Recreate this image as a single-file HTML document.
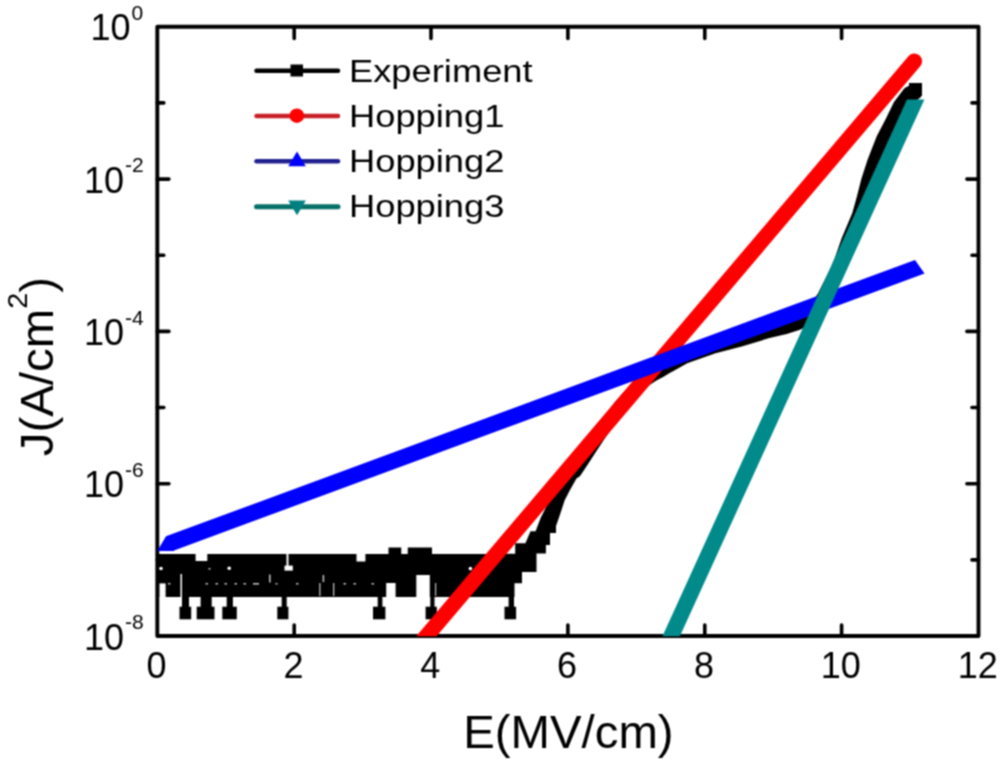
<!DOCTYPE html>
<html><head><meta charset="utf-8"><title>J-E plot</title>
<style>html,body{margin:0;padding:0;background:#fff;}svg{display:block;}</style>
</head><body>
<svg width="1000" height="764" viewBox="0 0 1000 764"><defs><filter id="soft" x="0" y="0" width="1" height="1" color-interpolation-filters="sRGB"><feConvolveMatrix order="3" kernelMatrix="1 2 1 2 4 2 1 2 1" divisor="16" edgeMode="duplicate"/></filter></defs><g filter="url(#soft)"><rect width="1000" height="764" fill="#fff"/><clipPath id="cp"><rect x="157.3" y="20" width="830" height="616.3"/></clipPath>
<rect x="157.3" y="26.8" width="821.2" height="609.2" fill="none" stroke="#000" stroke-width="3.9" stroke-linejoin="round"/>
<path fill="none" stroke="#000" stroke-width="3.6" stroke-linecap="round" d="M294.2,636.0v-11M294.2,26.8v11.6M431.0,636.0v-11M431.0,26.8v11.6M567.9,636.0v-11M567.9,26.8v11.6M704.8,636.0v-11M704.8,26.8v11.6M841.6,636.0v-11M841.6,26.8v11.6M157.3,559.9h6.5M978.5,559.9h-6.5M157.3,483.7h11.6M978.5,483.7h-11.6M157.3,407.5h6.5M978.5,407.5h-6.5M157.3,331.4h11.6M978.5,331.4h-11.6M157.3,255.2h6.5M978.5,255.2h-6.5M157.3,179.1h11.6M978.5,179.1h-11.6M157.3,102.9h6.5M978.5,102.9h-6.5"/>
<g><rect x="158.5" y="554" width="356" height="43" fill="#000"/><rect x="388.5" y="547.5" width="13" height="7" fill="#000"/><rect x="407.5" y="547.5" width="24.5" height="7" fill="#000"/><rect x="179.5" y="606.7" width="11.7" height="12.6" fill="#000"/><rect x="182" y="596" width="7.0" height="12" fill="#000"/><rect x="196.7" y="606.7" width="17.8" height="12.6" fill="#000"/><rect x="200.6" y="596" width="11.1" height="12" fill="#000"/><rect x="222.3" y="606.7" width="14.5" height="12.6" fill="#000"/><rect x="226.7" y="596" width="6.2" height="12" fill="#000"/><rect x="277.3" y="606.7" width="11.1" height="12.6" fill="#000"/><rect x="281.7" y="596" width="5.0" height="12" fill="#000"/><rect x="373" y="606.7" width="12.4" height="12.6" fill="#000"/><rect x="377.7" y="596" width="4.7" height="12" fill="#000"/><rect x="425.6" y="606.7" width="11.2" height="12.6" fill="#000"/><rect x="430.3" y="596" width="4.2" height="12" fill="#000"/><rect x="504.5" y="606.7" width="11.6" height="12.6" fill="#000"/><rect x="508.6" y="596" width="5.4" height="12" fill="#000"/><polygon fill="#000" points="513.5,597 513.5,583.2 522,583.2 522,572 536.5,572 536.5,553.4 545.9,553.4 545.9,544.9 550,544.9 550,533 556,533 556,526 559.5,516 564.6,500.6 569.7,490.4 576.5,478.5 581.6,470 568,462 545.9,507.4 540.7,517.7 535.6,531.3 530.5,531.3 525.4,543.2 515.2,543.2 515.2,553.7 505,553.7 505,597"/><rect x="195.6" y="553" width="11.7" height="8" fill="#fff"/><rect x="356.5" y="553" width="8.9" height="8.5" fill="#fff"/><rect x="286.5" y="553" width="2" height="13" fill="#fff"/><rect x="284.5" y="565.6" width="8.3" height="5" fill="#fff"/><rect x="159.5" y="583.4" width="6.1" height="14" fill="#fff"/><rect x="180.5" y="574" width="1.5" height="23" fill="#fff"/><rect x="386.2" y="583" width="9.4" height="14" fill="#fff"/><rect x="416.3" y="575" width="13.5" height="22" fill="#fff"/><rect x="401.5" y="547" width="6" height="7" fill="#fff"/><rect x="168" y="583" width="2.5" height="1.5" fill="#bbb"/><rect x="205.5" y="583" width="2.5" height="1.5" fill="#bbb"/><rect x="215.5" y="583" width="2.5" height="1.5" fill="#bbb"/><rect x="224.5" y="583" width="2.5" height="1.5" fill="#bbb"/><rect x="234.5" y="583" width="2.5" height="1.5" fill="#bbb"/><rect x="243.5" y="583" width="2.5" height="1.5" fill="#bbb"/><rect x="253" y="583" width="6" height="1.6" fill="#bbb"/><rect x="269" y="574.5" width="1.6" height="8" fill="#bbb"/><rect x="275.5" y="583" width="2" height="1.5" fill="#bbb"/><rect x="296" y="583" width="2.5" height="1.5" fill="#bbb"/><rect x="319.2" y="583" width="1.3" height="13" fill="#bbb"/><rect x="322.6" y="575" width="1.6" height="7" fill="#bbb"/><rect x="333" y="583" width="1.3" height="13" fill="#bbb"/><rect x="343.5" y="583" width="2.5" height="1.5" fill="#bbb"/><rect x="353.5" y="583" width="2.5" height="1.5" fill="#bbb"/><rect x="371.5" y="583" width="2.5" height="1.5" fill="#bbb"/><rect x="435" y="583" width="1.2" height="13" fill="#bbb"/><rect x="208.5" y="568" width="2" height="1.6" fill="#bbb"/><circle cx="161" cy="568.5" r="1.8" fill="#fff"/><circle cx="229.2" cy="568.3" r="1.8" fill="#fff"/><circle cx="470.4" cy="568.6" r="1.8" fill="#fff"/></g>
<polyline fill="none" stroke="#000" stroke-width="13" stroke-linejoin="round" stroke-linecap="round" points="575,472 583,460 592,446 600,434 610,420 620,406 628,397 635,390 640.5,384.5 646,379.5 652,375.5 659,371.8 668,366.5 685,357 712,347.5 739,340.4 766,332.3 784,328 798,323.5 806,319.5 812,314 818,305 824,296 830,284 836,272 841,260 848,240 858.5,215 862.7,200 867.5,181 874,161 882.6,139 890.2,124.5 899.2,106 909,93 915,90"/>
<rect x="909" y="83" width="13" height="13" fill="#000"/>
<polygon fill="#000" points="893,112 903,96 909,88 921,90 921,97 912,104 905,112"/>
<line clip-path="url(#cp)" x1="423.2" y1="640" x2="914.3" y2="61.2" stroke="#ff0000" stroke-width="15.5" stroke-linecap="round"/>
<polygon clip-path="url(#cp)" fill="#0000ff" points="157.3,551.0 166.0,536.3 915.0,260.0 924.5,273.6 174.0,550.4 174.0,551.0"/>
<polygon clip-path="url(#cp)" fill="#008a8a" points="907.0,99.5 924.4,99.5 679.3,637.5 661.9,637.5"/>
<g font-family="'Liberation Sans', sans-serif" font-size="36" fill="#000"><text x="156.5" y="677.5" text-anchor="middle">0</text><text x="293.4" y="677.5" text-anchor="middle">2</text><text x="430.2" y="677.5" text-anchor="middle">4</text><text x="567.1" y="677.5" text-anchor="middle">6</text><text x="704.0" y="677.5" text-anchor="middle">8</text><text x="840.8" y="677.5" text-anchor="middle">10</text><text x="977.7" y="677.5" text-anchor="middle">12</text></g>
<g font-family="'Liberation Sans', sans-serif" font-size="36" fill="#000"><text x="130.6" y="40.4" text-anchor="end">10</text><text x="131.4" y="19.9" font-size="21">0</text><text x="124.1" y="192.7" text-anchor="end">10</text><text x="124.9" y="172.2" font-size="21">-2</text><text x="124.1" y="345.0" text-anchor="end">10</text><text x="124.9" y="324.5" font-size="21">-4</text><text x="124.1" y="497.3" text-anchor="end">10</text><text x="124.9" y="476.8" font-size="21">-6</text><text x="124.1" y="649.6" text-anchor="end">10</text><text x="124.9" y="629.1" font-size="21">-8</text></g>
<text font-family="'Liberation Sans', sans-serif" font-size="46" x="568.4" y="747.5" text-anchor="middle" textLength="210.5" lengthAdjust="spacingAndGlyphs" fill="#000">E(MV/cm)</text>
<text font-family="'Liberation Sans', sans-serif" font-size="46" transform="translate(52.8,366.6) rotate(-90) scale(1.03,1)" text-anchor="middle" fill="#000">J(A/cm<tspan dy="-25.5" font-size="28">2</tspan><tspan dy="25.5">)</tspan></text>
<g><line x1="256.5" y1="70.8" x2="338" y2="70.8" stroke="#000" stroke-width="4.5" stroke-linecap="round"/><rect x="290.5" y="64.5" width="12.5" height="12" fill="#000"/><line x1="256.5" y1="116" x2="338" y2="116" stroke="#c82028" stroke-width="4.5" stroke-linecap="round"/><circle cx="296.8" cy="115.7" r="7.3" fill="#ff0000"/><line x1="256.5" y1="161.3" x2="338" y2="161.3" stroke="#20208e" stroke-width="4.5" stroke-linecap="round"/><polygon fill="#0000ff" points="297,151.5 305.8,166.3 288.2,166.3"/><line x1="256.5" y1="206.8" x2="338" y2="206.8" stroke="#087068" stroke-width="5" stroke-linecap="round"/><polygon fill="#008080" points="288.2,200.6 305.8,200.6 297,215.2"/></g>
<g font-family="'Liberation Sans', sans-serif" font-size="32" fill="#000"><text x="349" y="81.7" textLength="183.6" lengthAdjust="spacingAndGlyphs">Experiment</text><text x="349" y="126.7" textLength="155.4" lengthAdjust="spacingAndGlyphs">Hopping1</text><text x="349" y="171.7" textLength="155.4" lengthAdjust="spacingAndGlyphs">Hopping2</text><text x="349" y="216.7" textLength="155.4" lengthAdjust="spacingAndGlyphs">Hopping3</text></g></g></svg>
</body></html>
